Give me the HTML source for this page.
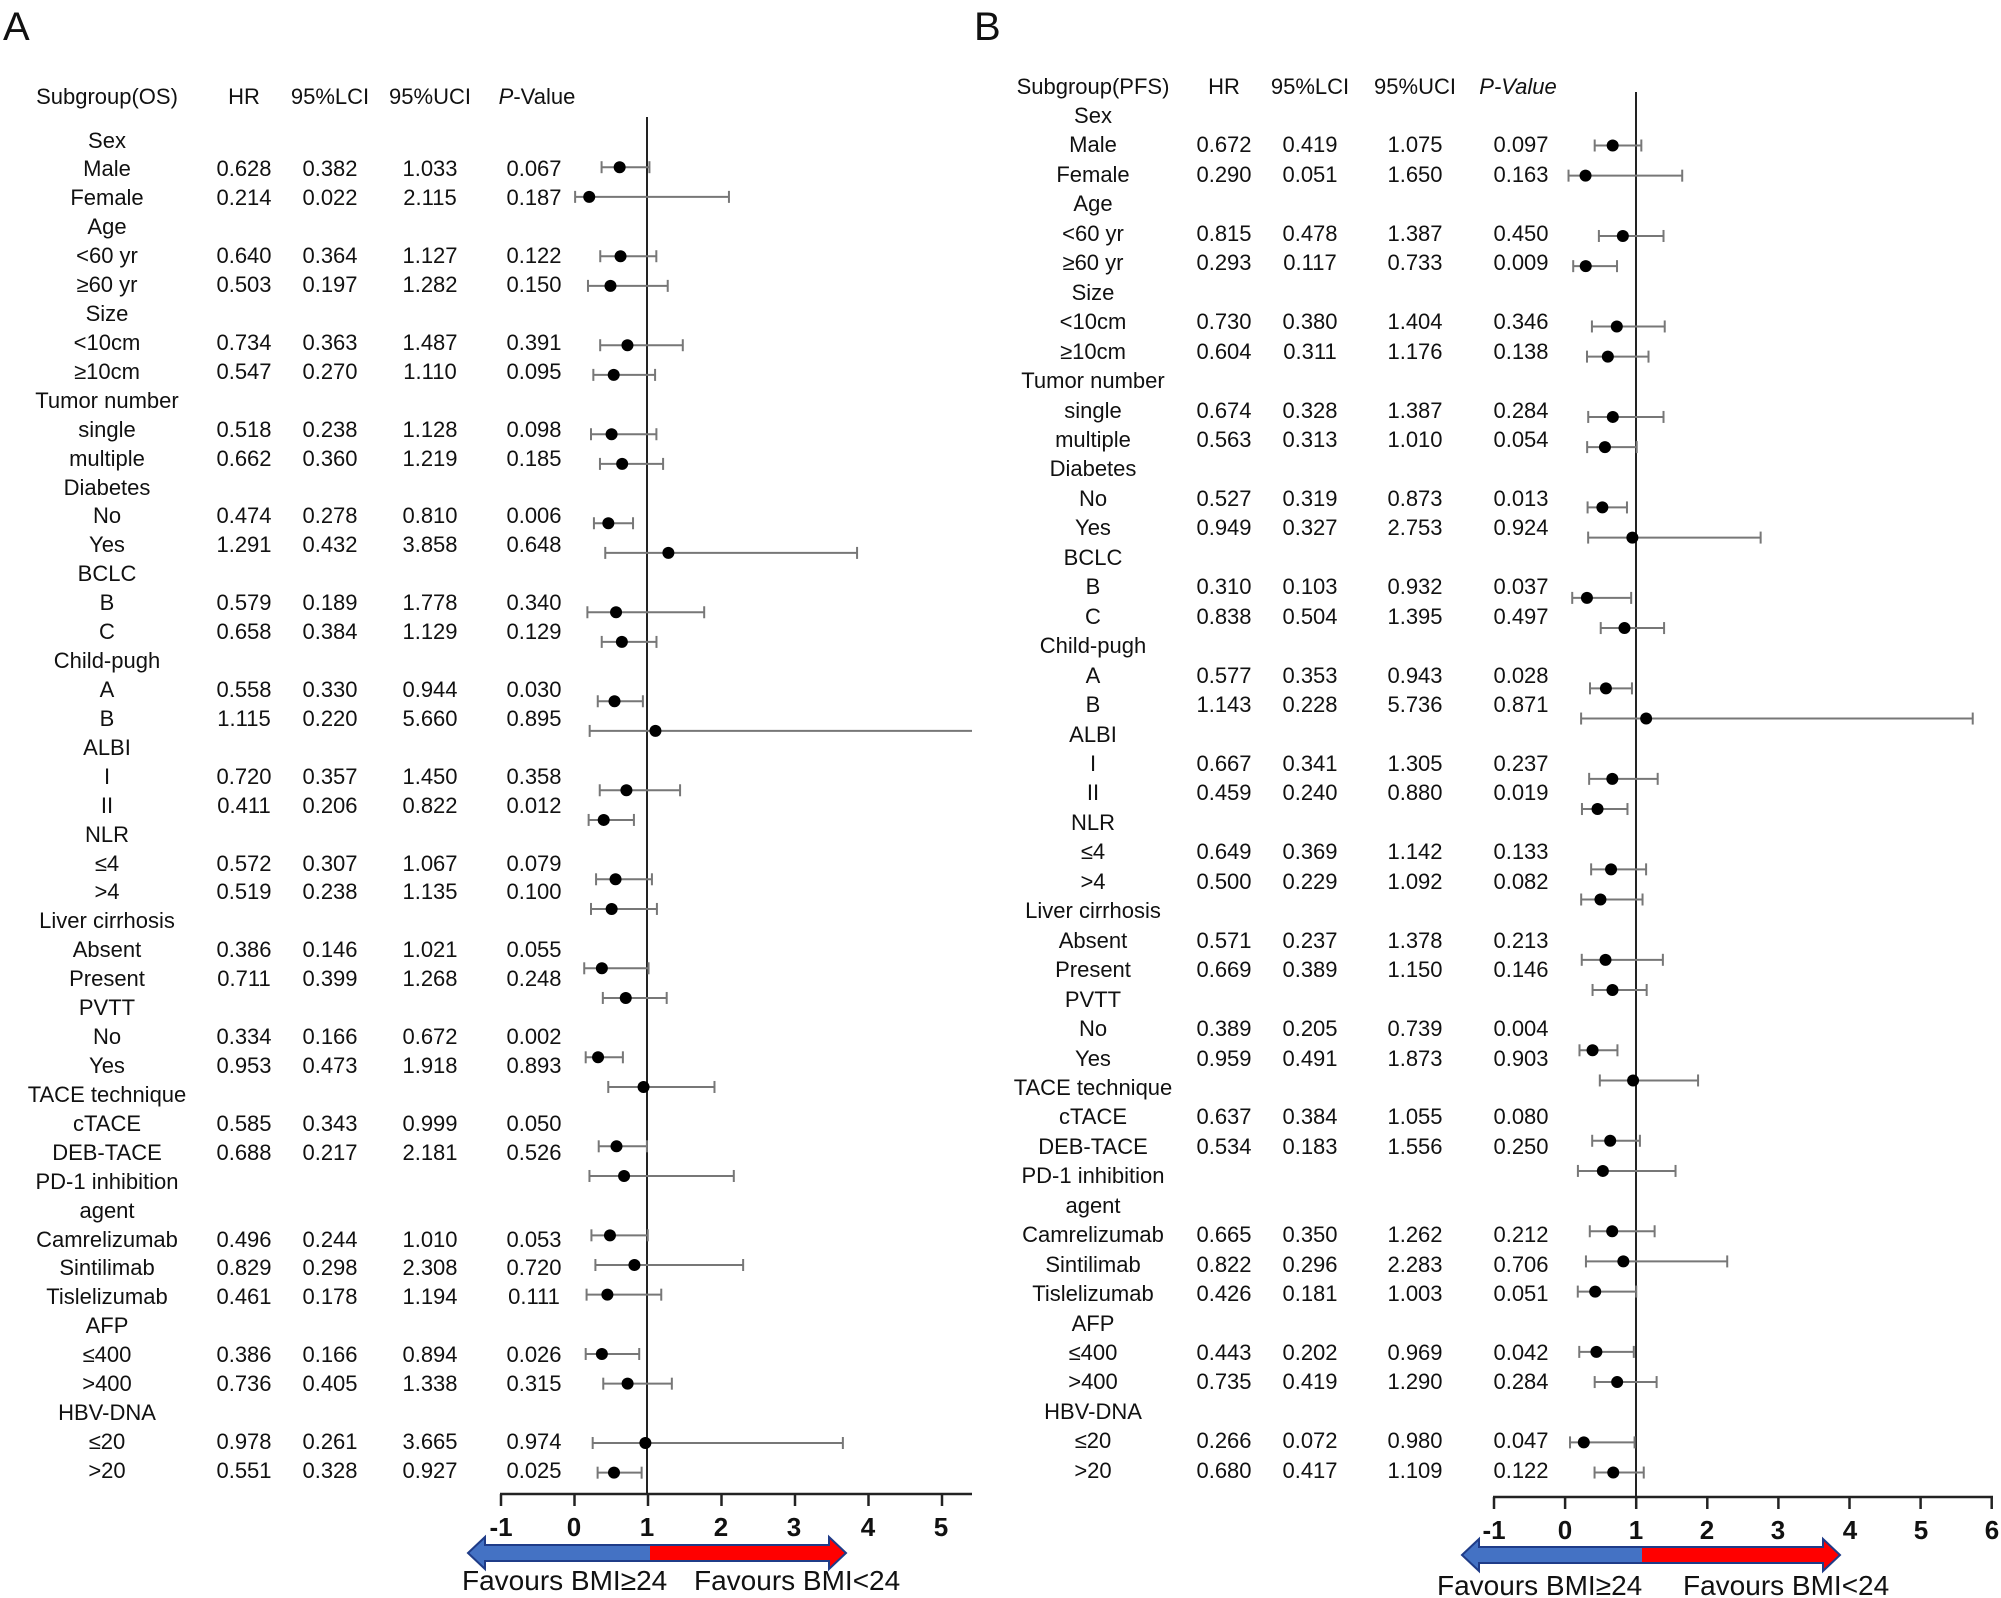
<!DOCTYPE html>
<html><head><meta charset="utf-8">
<style>
body{margin:0;background:#fff;width:2001px;height:1598px;overflow:hidden;position:relative;font-family:"Liberation Sans",Arial,sans-serif;color:#111}
.tbl{position:absolute;left:0;font-size:22px}
.r{position:relative;white-space:nowrap}
.r span{position:absolute;width:170px;text-align:center;top:0}
#ta .r{height:28.93px;line-height:28.93px}
#tb .r{height:29.46px;line-height:29.46px}
#ta .c0{left:22px}#ta .c1{left:159px}#ta .c2{left:245px}#ta .c3{left:345px}#ta .c4{left:449px}
#tb .c0{left:1008px}#tb .c1{left:1139px}#tb .c2{left:1225px}#tb .c3{left:1330px}#tb .c4{left:1436px}
.hd{position:absolute;font-size:22px;line-height:28px;white-space:nowrap}
.hd span{position:absolute;width:170px;text-align:center}
svg{position:absolute;left:0;top:0}
</style></head><body>
<div style="position:absolute;left:3px;top:4px;font-size:40px;line-height:46px">A</div>
<div style="position:absolute;left:974px;top:4px;font-size:40px;line-height:46px">B</div>

<div class="hd" style="top:83px;left:0">
<span style="left:22px">Subgroup(OS)</span><span style="left:159px">HR</span><span style="left:245px">95%LCI</span><span style="left:345px">95%UCI</span><span style="left:452px"><i>P</i>-Value</span>
</div>
<div class="hd" style="top:73px;left:0">
<span style="left:1008px">Subgroup(PFS)</span><span style="left:1139px">HR</span><span style="left:1225px">95%LCI</span><span style="left:1330px">95%UCI</span><span style="left:1433px"><i>P-Value</i></span>
</div>

<div class="tbl" id="ta" style="top:126.5px">
<div class="r"><span class="c0">Sex</span></div>
<div class="r"><span class="c0">Male</span><span class="c1">0.628</span><span class="c2">0.382</span><span class="c3">1.033</span><span class="c4">0.067</span></div>
<div class="r"><span class="c0">Female</span><span class="c1">0.214</span><span class="c2">0.022</span><span class="c3">2.115</span><span class="c4">0.187</span></div>
<div class="r"><span class="c0">Age</span></div>
<div class="r"><span class="c0">&lt;60 yr</span><span class="c1">0.640</span><span class="c2">0.364</span><span class="c3">1.127</span><span class="c4">0.122</span></div>
<div class="r"><span class="c0">≥60 yr</span><span class="c1">0.503</span><span class="c2">0.197</span><span class="c3">1.282</span><span class="c4">0.150</span></div>
<div class="r"><span class="c0">Size</span></div>
<div class="r"><span class="c0">&lt;10cm</span><span class="c1">0.734</span><span class="c2">0.363</span><span class="c3">1.487</span><span class="c4">0.391</span></div>
<div class="r"><span class="c0">≥10cm</span><span class="c1">0.547</span><span class="c2">0.270</span><span class="c3">1.110</span><span class="c4">0.095</span></div>
<div class="r"><span class="c0">Tumor number</span></div>
<div class="r"><span class="c0">single</span><span class="c1">0.518</span><span class="c2">0.238</span><span class="c3">1.128</span><span class="c4">0.098</span></div>
<div class="r"><span class="c0">multiple</span><span class="c1">0.662</span><span class="c2">0.360</span><span class="c3">1.219</span><span class="c4">0.185</span></div>
<div class="r"><span class="c0">Diabetes</span></div>
<div class="r"><span class="c0">No</span><span class="c1">0.474</span><span class="c2">0.278</span><span class="c3">0.810</span><span class="c4">0.006</span></div>
<div class="r"><span class="c0">Yes</span><span class="c1">1.291</span><span class="c2">0.432</span><span class="c3">3.858</span><span class="c4">0.648</span></div>
<div class="r"><span class="c0">BCLC</span></div>
<div class="r"><span class="c0">B</span><span class="c1">0.579</span><span class="c2">0.189</span><span class="c3">1.778</span><span class="c4">0.340</span></div>
<div class="r"><span class="c0">C</span><span class="c1">0.658</span><span class="c2">0.384</span><span class="c3">1.129</span><span class="c4">0.129</span></div>
<div class="r"><span class="c0">Child-pugh</span></div>
<div class="r"><span class="c0">A</span><span class="c1">0.558</span><span class="c2">0.330</span><span class="c3">0.944</span><span class="c4">0.030</span></div>
<div class="r"><span class="c0">B</span><span class="c1">1.115</span><span class="c2">0.220</span><span class="c3">5.660</span><span class="c4">0.895</span></div>
<div class="r"><span class="c0">ALBI</span></div>
<div class="r"><span class="c0">I</span><span class="c1">0.720</span><span class="c2">0.357</span><span class="c3">1.450</span><span class="c4">0.358</span></div>
<div class="r"><span class="c0">II</span><span class="c1">0.411</span><span class="c2">0.206</span><span class="c3">0.822</span><span class="c4">0.012</span></div>
<div class="r"><span class="c0">NLR</span></div>
<div class="r"><span class="c0">≤4</span><span class="c1">0.572</span><span class="c2">0.307</span><span class="c3">1.067</span><span class="c4">0.079</span></div>
<div class="r"><span class="c0">&gt;4</span><span class="c1">0.519</span><span class="c2">0.238</span><span class="c3">1.135</span><span class="c4">0.100</span></div>
<div class="r"><span class="c0">Liver cirrhosis</span></div>
<div class="r"><span class="c0">Absent</span><span class="c1">0.386</span><span class="c2">0.146</span><span class="c3">1.021</span><span class="c4">0.055</span></div>
<div class="r"><span class="c0">Present</span><span class="c1">0.711</span><span class="c2">0.399</span><span class="c3">1.268</span><span class="c4">0.248</span></div>
<div class="r"><span class="c0">PVTT</span></div>
<div class="r"><span class="c0">No</span><span class="c1">0.334</span><span class="c2">0.166</span><span class="c3">0.672</span><span class="c4">0.002</span></div>
<div class="r"><span class="c0">Yes</span><span class="c1">0.953</span><span class="c2">0.473</span><span class="c3">1.918</span><span class="c4">0.893</span></div>
<div class="r"><span class="c0">TACE technique</span></div>
<div class="r"><span class="c0">cTACE</span><span class="c1">0.585</span><span class="c2">0.343</span><span class="c3">0.999</span><span class="c4">0.050</span></div>
<div class="r"><span class="c0">DEB-TACE</span><span class="c1">0.688</span><span class="c2">0.217</span><span class="c3">2.181</span><span class="c4">0.526</span></div>
<div class="r"><span class="c0">PD-1 inhibition</span></div>
<div class="r"><span class="c0">agent</span></div>
<div class="r"><span class="c0">Camrelizumab</span><span class="c1">0.496</span><span class="c2">0.244</span><span class="c3">1.010</span><span class="c4">0.053</span></div>
<div class="r"><span class="c0">Sintilimab</span><span class="c1">0.829</span><span class="c2">0.298</span><span class="c3">2.308</span><span class="c4">0.720</span></div>
<div class="r"><span class="c0">Tislelizumab</span><span class="c1">0.461</span><span class="c2">0.178</span><span class="c3">1.194</span><span class="c4">0.111</span></div>
<div class="r"><span class="c0">AFP</span></div>
<div class="r"><span class="c0">≤400</span><span class="c1">0.386</span><span class="c2">0.166</span><span class="c3">0.894</span><span class="c4">0.026</span></div>
<div class="r"><span class="c0">&gt;400</span><span class="c1">0.736</span><span class="c2">0.405</span><span class="c3">1.338</span><span class="c4">0.315</span></div>
<div class="r"><span class="c0">HBV-DNA</span></div>
<div class="r"><span class="c0">≤20</span><span class="c1">0.978</span><span class="c2">0.261</span><span class="c3">3.665</span><span class="c4">0.974</span></div>
<div class="r"><span class="c0">&gt;20</span><span class="c1">0.551</span><span class="c2">0.328</span><span class="c3">0.927</span><span class="c4">0.025</span></div>
</div>

<div class="tbl" id="tb" style="top:101px">
<div class="r"><span class="c0">Sex</span></div>
<div class="r"><span class="c0">Male</span><span class="c1">0.672</span><span class="c2">0.419</span><span class="c3">1.075</span><span class="c4">0.097</span></div>
<div class="r"><span class="c0">Female</span><span class="c1">0.290</span><span class="c2">0.051</span><span class="c3">1.650</span><span class="c4">0.163</span></div>
<div class="r"><span class="c0">Age</span></div>
<div class="r"><span class="c0">&lt;60 yr</span><span class="c1">0.815</span><span class="c2">0.478</span><span class="c3">1.387</span><span class="c4">0.450</span></div>
<div class="r"><span class="c0">≥60 yr</span><span class="c1">0.293</span><span class="c2">0.117</span><span class="c3">0.733</span><span class="c4">0.009</span></div>
<div class="r"><span class="c0">Size</span></div>
<div class="r"><span class="c0">&lt;10cm</span><span class="c1">0.730</span><span class="c2">0.380</span><span class="c3">1.404</span><span class="c4">0.346</span></div>
<div class="r"><span class="c0">≥10cm</span><span class="c1">0.604</span><span class="c2">0.311</span><span class="c3">1.176</span><span class="c4">0.138</span></div>
<div class="r"><span class="c0">Tumor number</span></div>
<div class="r"><span class="c0">single</span><span class="c1">0.674</span><span class="c2">0.328</span><span class="c3">1.387</span><span class="c4">0.284</span></div>
<div class="r"><span class="c0">multiple</span><span class="c1">0.563</span><span class="c2">0.313</span><span class="c3">1.010</span><span class="c4">0.054</span></div>
<div class="r"><span class="c0">Diabetes</span></div>
<div class="r"><span class="c0">No</span><span class="c1">0.527</span><span class="c2">0.319</span><span class="c3">0.873</span><span class="c4">0.013</span></div>
<div class="r"><span class="c0">Yes</span><span class="c1">0.949</span><span class="c2">0.327</span><span class="c3">2.753</span><span class="c4">0.924</span></div>
<div class="r"><span class="c0">BCLC</span></div>
<div class="r"><span class="c0">B</span><span class="c1">0.310</span><span class="c2">0.103</span><span class="c3">0.932</span><span class="c4">0.037</span></div>
<div class="r"><span class="c0">C</span><span class="c1">0.838</span><span class="c2">0.504</span><span class="c3">1.395</span><span class="c4">0.497</span></div>
<div class="r"><span class="c0">Child-pugh</span></div>
<div class="r"><span class="c0">A</span><span class="c1">0.577</span><span class="c2">0.353</span><span class="c3">0.943</span><span class="c4">0.028</span></div>
<div class="r"><span class="c0">B</span><span class="c1">1.143</span><span class="c2">0.228</span><span class="c3">5.736</span><span class="c4">0.871</span></div>
<div class="r"><span class="c0">ALBI</span></div>
<div class="r"><span class="c0">I</span><span class="c1">0.667</span><span class="c2">0.341</span><span class="c3">1.305</span><span class="c4">0.237</span></div>
<div class="r"><span class="c0">II</span><span class="c1">0.459</span><span class="c2">0.240</span><span class="c3">0.880</span><span class="c4">0.019</span></div>
<div class="r"><span class="c0">NLR</span></div>
<div class="r"><span class="c0">≤4</span><span class="c1">0.649</span><span class="c2">0.369</span><span class="c3">1.142</span><span class="c4">0.133</span></div>
<div class="r"><span class="c0">&gt;4</span><span class="c1">0.500</span><span class="c2">0.229</span><span class="c3">1.092</span><span class="c4">0.082</span></div>
<div class="r"><span class="c0">Liver cirrhosis</span></div>
<div class="r"><span class="c0">Absent</span><span class="c1">0.571</span><span class="c2">0.237</span><span class="c3">1.378</span><span class="c4">0.213</span></div>
<div class="r"><span class="c0">Present</span><span class="c1">0.669</span><span class="c2">0.389</span><span class="c3">1.150</span><span class="c4">0.146</span></div>
<div class="r"><span class="c0">PVTT</span></div>
<div class="r"><span class="c0">No</span><span class="c1">0.389</span><span class="c2">0.205</span><span class="c3">0.739</span><span class="c4">0.004</span></div>
<div class="r"><span class="c0">Yes</span><span class="c1">0.959</span><span class="c2">0.491</span><span class="c3">1.873</span><span class="c4">0.903</span></div>
<div class="r"><span class="c0">TACE technique</span></div>
<div class="r"><span class="c0">cTACE</span><span class="c1">0.637</span><span class="c2">0.384</span><span class="c3">1.055</span><span class="c4">0.080</span></div>
<div class="r"><span class="c0">DEB-TACE</span><span class="c1">0.534</span><span class="c2">0.183</span><span class="c3">1.556</span><span class="c4">0.250</span></div>
<div class="r"><span class="c0">PD-1 inhibition</span></div>
<div class="r"><span class="c0">agent</span></div>
<div class="r"><span class="c0">Camrelizumab</span><span class="c1">0.665</span><span class="c2">0.350</span><span class="c3">1.262</span><span class="c4">0.212</span></div>
<div class="r"><span class="c0">Sintilimab</span><span class="c1">0.822</span><span class="c2">0.296</span><span class="c3">2.283</span><span class="c4">0.706</span></div>
<div class="r"><span class="c0">Tislelizumab</span><span class="c1">0.426</span><span class="c2">0.181</span><span class="c3">1.003</span><span class="c4">0.051</span></div>
<div class="r"><span class="c0">AFP</span></div>
<div class="r"><span class="c0">≤400</span><span class="c1">0.443</span><span class="c2">0.202</span><span class="c3">0.969</span><span class="c4">0.042</span></div>
<div class="r"><span class="c0">&gt;400</span><span class="c1">0.735</span><span class="c2">0.419</span><span class="c3">1.290</span><span class="c4">0.284</span></div>
<div class="r"><span class="c0">HBV-DNA</span></div>
<div class="r"><span class="c0">≤20</span><span class="c1">0.266</span><span class="c2">0.072</span><span class="c3">0.980</span><span class="c4">0.047</span></div>
<div class="r"><span class="c0">&gt;20</span><span class="c1">0.680</span><span class="c2">0.417</span><span class="c3">1.109</span><span class="c4">0.122</span></div>
</div>

<svg id="sv" width="2001" height="1598" xmlns="http://www.w3.org/2000/svg">
<line x1="647" y1="117" x2="647" y2="1494" stroke="#222" stroke-width="2"/>
<line x1="1636" y1="92" x2="1636" y2="1497" stroke="#222" stroke-width="2"/>
<g id="fa"></g><g id="fb"></g>
<g font-family="Liberation Sans, Arial, sans-serif" font-weight="bold" font-size="26" text-anchor="middle" fill="#111">
<text x="501" y="1536">-1</text><text x="574" y="1536">0</text><text x="647" y="1536">1</text><text x="721" y="1536">2</text><text x="794" y="1536">3</text><text x="868" y="1536">4</text><text x="941" y="1536">5</text>
<text x="1494" y="1539">-1</text><text x="1565" y="1539">0</text><text x="1636" y="1539">1</text><text x="1707" y="1539">2</text><text x="1778" y="1539">3</text><text x="1850" y="1539">4</text><text x="1921" y="1539">5</text><text x="1992" y="1539">6</text>
</g>
<polygon points="468,1553 485,1537 485,1545 650,1545 650,1561 485,1561 485,1569" fill="#4472C4"/>
<polygon points="650,1545 829,1545 829,1537 846,1553 829,1569 829,1561 650,1561" fill="#FF0000"/>
<polygon points="468,1553 485,1537 485,1545 829,1545 829,1537 846,1553 829,1569 829,1561 485,1561 485,1569" fill="none" stroke="#1F3C88" stroke-width="2"/>
<polygon points="1462,1555 1479,1539 1479,1547 1642,1547 1642,1563 1479,1563 1479,1571" fill="#4472C4"/>
<polygon points="1642,1547 1823,1547 1823,1539 1840,1555 1823,1571 1823,1563 1642,1563" fill="#FF0000"/>
<polygon points="1462,1555 1479,1539 1479,1547 1823,1547 1823,1539 1840,1555 1823,1571 1823,1563 1479,1563 1479,1571" fill="none" stroke="#1F3C88" stroke-width="2"/>
<g font-family="Liberation Sans, Arial, sans-serif" font-size="28" fill="#111">
<text x="462" y="1590">Favours BMI≥24</text><text x="694" y="1590">Favours BMI&lt;24</text>
<text x="1437" y="1595">Favours BMI≥24</text><text x="1683" y="1595">Favours BMI&lt;24</text>
</g>
</svg>
<script>
(function(){
var NS="http://www.w3.org/2000/svg";
function el(p,n,a){var e=document.createElementNS(NS,n);for(var k in a)e.setAttribute(k,a[k]);p.appendChild(e);return e;}
var slots=[0,1,3,4,6,7,9,10,12,13,15,16,18,19,21,22,24,25,27,28,30,31,33,34,36,37,38,40,41,43,44];
var A=[[.628,.382,1.033],[.214,.022,2.115],[.640,.364,1.127],[.503,.197,1.282],[.734,.363,1.487],[.547,.270,1.110],[.518,.238,1.128],[.662,.360,1.219],[.474,.278,.810],[1.291,.432,3.858],[.579,.189,1.778],[.658,.384,1.129],[.558,.330,.944],[1.115,.220,5.660],[.720,.357,1.450],[.411,.206,.822],[.572,.307,1.067],[.519,.238,1.135],[.386,.146,1.021],[.711,.399,1.268],[.334,.166,.672],[.953,.473,1.918],[.585,.343,.999],[.688,.217,2.181],[.496,.244,1.010],[.829,.298,2.308],[.461,.178,1.194],[.386,.166,.894],[.736,.405,1.338],[.978,.261,3.665],[.551,.328,.927]];
var B=[[.672,.419,1.075],[.290,.051,1.650],[.815,.478,1.387],[.293,.117,.733],[.730,.380,1.404],[.604,.311,1.176],[.674,.328,1.387],[.563,.313,1.010],[.527,.319,.873],[.949,.327,2.753],[.310,.103,.932],[.838,.504,1.395],[.577,.353,.943],[1.143,.228,5.736],[.667,.341,1.305],[.459,.240,.880],[.649,.369,1.142],[.500,.229,1.092],[.571,.237,1.378],[.669,.389,1.150],[.389,.205,.739],[.959,.491,1.873],[.637,.384,1.055],[.534,.183,1.556],[.665,.350,1.262],[.822,.296,2.283],[.426,.181,1.003],[.443,.202,.969],[.735,.419,1.290],[.266,.072,.980],[.680,.417,1.109]];
function draw(g,data,x1,u,y0,dy,xmax){
 data.forEach(function(d,i){
  var y=y0+dy*slots[i];
  var xl=x1+(d[1]-1)*u, xh=Math.min(xmax,x1+(d[2]-1)*u), xp=x1+(d[0]-1)*u;
  el(g,"line",{x1:xl,y1:y,x2:xh,y2:y,stroke:"#777","stroke-width":2});
  el(g,"line",{x1:xl,y1:y-6,x2:xl,y2:y+6,stroke:"#777","stroke-width":2});
  if(xh<xmax) el(g,"line",{x1:xh,y1:y-6,x2:xh,y2:y+6,stroke:"#777","stroke-width":2});
  el(g,"circle",{cx:xp,cy:y,r:6,fill:"#000"});
 });
}
draw(document.getElementById("fa"),A,647,73.5,167.2,29.67,972);
draw(document.getElementById("fb"),B,1636,71.1,145.5,30.16,2000);
function axis(g,x0,x1,y,t0,u,n){
 el(g,"line",{x1:x0,y1:y,x2:x1,y2:y,stroke:"#222","stroke-width":2.5});
 for(var i=0;i<n;i++){var x=t0+i*u;el(g,"line",{x1:x,y1:y,x2:x,y2:y+12,stroke:"#222","stroke-width":2.5});}
}
axis(document.getElementById("fa"),500,972,1494,501,73.5,7);
axis(document.getElementById("fb"),1493,1993,1497,1494,71.1,8);
})();
</script>
</body></html>
